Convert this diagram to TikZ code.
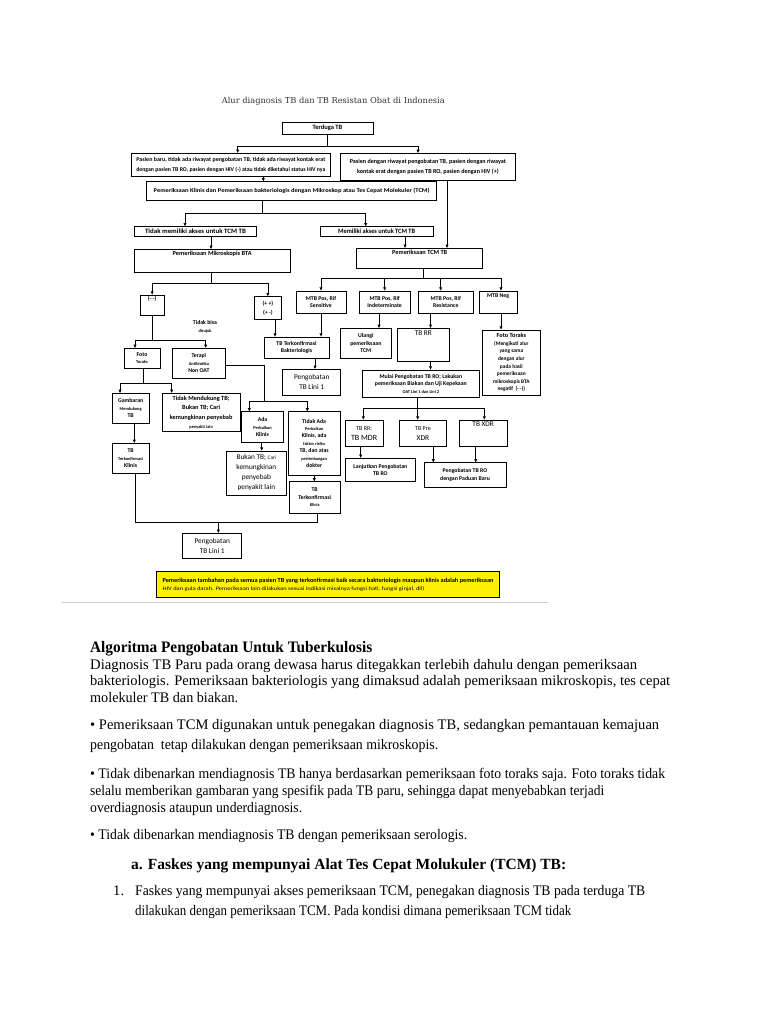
\documentclass[tikz,border=0pt]{standalone}
\usepackage{fontspec}
\usepackage{graphicx}
\setmainfont{Liberation Serif}
\newfontfamily\carl{Carlito}
\newfontfamily\djs{DejaVu Serif}
\usetikzlibrary{arrows.meta}
\newcommand\dg{\carl\bfseries\fontsize{5.8}{7.4}\selectfont}
\newcommand\dgw{\carl\bfseries\fontsize{5.8}{9.5}\selectfont}
\newcommand\dgs{\fontsize{4.4}{7}\selectfont}
\newcommand\dgl{\carl\fontsize{7.3}{10}\selectfont}
\newcommand\dgm{\carl\bfseries\fontsize{6.3}{9.3}\selectfont}
\newcommand\bodyf{\fontsize{14.6}{17}\selectfont}
\newsavebox\fitbx
\newlength\fitlen
\newcommand\fitw[2]{\sbox\fitbx{#2}\setlength\fitlen{\wd\fitbx}\pgfmathsetmacro\fitr{#1/\fitlen}\scalebox{\fitr}[1]{\usebox\fitbx}}
\tikzset{
 box/.style={draw=black,line width=0.8pt,inner sep=0.5pt,align=center,font=\dg},
 ln/.style={line width=0.7pt},
 arr/.style={ln,-{Triangle[length=3.2pt,width=2.8pt]}},
 body/.style={anchor=base west,inner sep=0pt,font=\bodyf},
 toplbl/.style={font=\dg,anchor=north,inner sep=1.5pt,align=center},
}
\newcommand\Bx[6][]{\node[box,minimum width={(#5-#3)*1pt},minimum height={(#6-#4)*1pt},#1] (#2) at ({(#3+#5)/2},{(#4+#6)/2})}
\begin{document}
\begin{tikzpicture}[x=1pt,y=-1pt]
\fill[white] (0,0) rectangle (768,1024);
\useasboundingbox (0,0) rectangle (768,1024);
% title
\node[font=\djs\fontsize{8.2}{10}\selectfont,text=black!80] (title) at (333.3,101) {\fitw{223}{Alur diagnosis TB dan TB Resistan Obat di Indonesia}};
% boxes
\Bx[font=\carl\bfseries\fontsize{6.5}{8}\selectfont]{terduga}{282}{122}{373}{134}{Terduga TB};
\Bx[font=\dgw]{baru}{131.7}{153.3}{330}{176.7}{\fitw{189}{Pasien baru, tidak ada riwayat pengobatan TB, tidak ada riwayat kontak erat}\\\fitw{189}{dengan pasien TB RO, pasien dengan HIV (-) atau tidak diketahui status HIV nya}};
\Bx[font=\carl\bfseries\fontsize{6.1}{10}\selectfont]{lama}{340.7}{153.3}{515}{180}{Pasien dengan riwayat pengobatan TB, pasien dengan riwayat\\kontak erat dengan pasien TB RO, pasien dengan HIV (+)};
\Bx{klinis}{146.7}{181.7}{436.7}{200}{\fitw{276}{Pemeriksaan Klinis dan Pemeriksaan bakteriologis dengan Mikroskop atau Tes Cepat Molekuler (TCM)}};
\Bx[font=\carl\bfseries\fontsize{6.6}{8}\selectfont]{tidakakses}{134.3}{226.7}{256.7}{236}{\fitw{101}{Tidak memiliki akses untuk TCM TB}};
\Bx[font=\carl\bfseries\fontsize{6.6}{8}\selectfont]{akses}{320}{226.7}{433.3}{236.7}{\fitw{77}{Memiliki akses untuk TCM TB}};
\Bx[label={[toplbl,font=\carl\bfseries\fontsize{6.3}{8}\selectfont]north:\fitw{79}{Pemeriksaan Mikroskopis BTA}}]{mikro}{134.3}{249.3}{290}{272.7}{};
\Bx[label={[toplbl,font=\carl\bfseries\fontsize{6.3}{8}\selectfont]north:\fitw{55}{Pemeriksaan TCM TB}}]{tcm}{356.7}{248.3}{482.7}{268.3}{};
\Bx{minmin}{140}{295}{164.3}{315}{(- -)\\[6pt]};
\Bx{plus}{254}{296.7}{281.7}{319.3}{(+ +)\\[1.5pt](+ -)};
\Bx{sens}{296}{291}{346}{313}{MTB Pos, Rif\\Sensitive};
\Bx{indet}{359.3}{291}{410}{313}{MTB Pos, Rif\\Indeterminate};
\Bx{resist}{418.3}{291}{473.3}{313}{MTB Pos, Rif\\Resistance};
\Bx[label={[toplbl,yshift=-1.5pt]north:MTB Neg}]{neg}{479}{291}{517.3}{313}{};
\node[font=\dg,align=center] (dirujuk) at (205,327) {Tidak bisa\\{\dgs dirujuk}};
\Bx{foto}{124}{348.3}{160}{368.3}{Foto\\{\dgs Toraks}};
\Bx{terapi}{172.7}{348.3}{225}{378.3}{Terapi\\{\dgs Antibiotika}\\Non OAT};
\Bx{tbbakt}{264}{337}{329}{358.3}{TB Terkonfirmasi\\Bakteriologis};
\Bx[font=\dgl]{lini1a}{282.7}{369.3}{340.7}{395}{Pengobatan\\TB Lini 1};
\Bx{ulangi}{340}{328.3}{391.7}{358.3}{Ulangi\\pemeriksaan\\TCM};
\Bx[label={[toplbl,font=\dgl,yshift=-1pt]north:TB RR}]{tbrr}{397.3}{328.3}{449.3}{361.7}{};
\Bx[font=\carl\bfseries\fontsize{5.4}{7.6}\selectfont]{fotoneg}{482.7}{330}{540}{395}{{\fontsize{6.2}{8}\selectfont Foto Toraks}\\(Mengikuti alur\\yang sama\\dengan alur\\pada hasil\\pemeriksaan\\mikroskopis BTA\\negatif\ \ (- -))};
\Bx{mulai}{362.7}{370}{479}{397.5}{Mulai Pengobatan TB RO; Lakukan\\pemeriksaan Biakan dan Uji Kepekaan\\{\dgs OAT Lini 1 dan Lini 2}};
\Bx{gambaran}{112.3}{393.3}{149}{423.3}{Gambaran\\{\dgs Mendukung}\\TB};
\Bx[font=\dgm]{tidakmend}{162.3}{393.3}{240}{431.7}{Tidak Mendukung TB;\\Bukan TB; Cari\\kemungkinan penyebab\\{\dgs penyakit lain}};
\Bx{ada}{241.7}{411.7}{283.3}{442.7}{Ada\\{\dgs Perbaikan}\\Klinis};
\Bx{tidakada}{288.3}{411.7}{340}{475}{Tidak Ada\\{\dgs Perbaikan}\\Klinis, ada\\{\dgs faktor risiko}\\TB, dan atas\\{\dgs pertimbangan}\\dokter};
\Bx[font=\dgl]{bukan}{226.7}{451}{286}{495}{Bukan TB; {\fontsize{5.3}{9}\selectfont Cari}\\kemungkinan\\penyebab\\penyakit lain};
\Bx{klinis1}{112.3}{443.3}{149}{473.3}{TB\\{\dgs Terkonfirmasi}\\Klinis};
\Bx{klinis2}{289.3}{481.7}{340}{513.3}{TB\\Terkonfirmasi\\{\dgs Klinis}};
\Bx[font=\carl\fontsize{8}{10}\selectfont]{mdr}{345}{420}{383.3}{446.7}{{\fontsize{6}{8}\selectfont TB RR;}\\TB MDR};
\Bx[font=\carl\fontsize{7.5}{10}\selectfont]{prexdr}{399.3}{420}{446.7}{446.7}{{\fontsize{6}{8}\selectfont TB Pre}\\XDR};
\Bx[label={[toplbl,font=\dgl,yshift=-1pt]north:TB XDR}]{xdr}{459}{420}{507.3}{446}{};
\Bx{lanjut}{345}{458.3}{415.7}{481.7}{Lanjutkan Pengobatan\\TB RO};
\Bx{paduan}{424}{462.7}{506}{487.3}{Pengobatan TB RO\\dengan Paduan Baru};
\Bx[font=\dgl]{lini1b}{182.7}{533.3}{241.7}{558.3}{Pengobatan\\TB Lini 1};
\Bx[fill=yellow,align=left,font=\carl\fontsize{5.3}{8.5}\selectfont]{note}{156.7}{571.7}{499.3}{597.7}{\fitw{331}{\bfseries\fontsize{6.2}{8}\selectfont Pemeriksaan tambahan pada semua pasien TB yang terkonfirmasi baik secara bakteriologis maupun klinis adalah pemeriksaan}\\\fitw{262}{HIV dan gula darah. Pemeriksaan lain dilakukan sesuai indikasi misalnya fungsi hati, fungsi ginjal, dll)}};
% separator
\draw[black!20,line width=0.8pt] (62,602) coordinate (s1) -- (548,602) coordinate (s2);
% connectors
\coordinate (h1) at (0,146.7); \coordinate (c1a) at (237.7,0); \coordinate (c1b) at (418,0);
\draw[ln] (terduga.south) -- (terduga.south |- h1);
\draw[arr] (terduga.south |- h1) -| (baru.north -| c1a);
\draw[arr] (terduga.south |- h1) -| (lama.north -| c1b);
\coordinate (c2) at (263.3,0);
\draw[arr] (baru.south -| c2) -- (klinis.north -| c2);
\coordinate (c3) at (447,0);
\draw[arr] (lama.south -| c3) -- (tcm.north -| c3);
\coordinate (c4) at (262.3,0); \coordinate (h4) at (0,213.3); \coordinate (c4a) at (185,0); \coordinate (c4b) at (365.7,0);
\draw[ln] (klinis.south -| c4) -- (c4 |- h4);
\draw[arr] (c4 |- h4) -| (tidakakses.north -| c4a);
\draw[arr] (c4 |- h4) -| (akses.north -| c4b);
\coordinate (c5) at (211,0);
\draw[arr] (tidakakses.south -| c5) -- (mikro.north -| c5);
\coordinate (c6) at (405,0);
\draw[arr] (akses.south -| c6) -- (tcm.north -| c6);
\coordinate (h7) at (0,283.3);
\draw[ln] (mikro.south -| c5) -- (c5 |- h7);
\draw[arr] (c5 |- h7) -| (minmin.north);
\draw[arr] (c5 |- h7) -| (plus.north);
\coordinate (c8) at (423.3,0); \coordinate (h8) at (0,278.3); \coordinate (c8r) at (440.7,0); \coordinate (c8n) at (501,0);
\draw[ln] (tcm.south -| c8) -- (c8 |- h8);
\draw[arr] (c8 |- h8) -| (sens.north);
\draw[arr] (c8 |- h8) -| (indet.north);
\draw[arr] (c8 |- h8) -| (resist.north -| c8r);
\draw[arr] (c8 |- h8) -| (neg.north -| c8n);
\coordinate (h9) at (0,340); \coordinate (c9a) at (135,0); \coordinate (c9b) at (205.7,0);
\draw[ln] (minmin.south) -- (minmin.south |- h9);
\draw[arr] (minmin.south |- h9) -| (foto.north -| c9a);
\draw[arr] (minmin.south |- h9) -| (terapi.north -| c9b);
\coordinate (c10) at (275,0);
\draw[arr] (plus.south -| c10) -- (tbbakt.north -| c10);
\draw[arr] (sens.south) -- (sens.south |- tbbakt.north);
\coordinate (c12) at (315,0);
\draw[arr] (tbbakt.south -| c12) -- (lini1a.north -| c12);
\coordinate (c13) at (379,0);
\draw[arr] (indet.south -| c13) -- (ulangi.north -| c13);
\coordinate (c14) at (430.5,0);
\draw[arr] (resist.south -| c14) -- (tbrr.north -| c14);
\draw[arr] (tbrr.south -| c14) -- (mulai.north -| c14);
\draw[arr] (neg.south -| c8n) -- (fotoneg.north -| c8n);
\coordinate (h17) at (0,383.3); \coordinate (c17) at (143.3,0); \coordinate (c17a) at (120,0); \coordinate (c17b) at (171.7,0);
\draw[ln] (foto.south -| c17) -- (c17 |- h17);
\draw[arr] (c17 |- h17) -| (gambaran.north -| c17a);
\draw[arr] (c17 |- h17) -| (tidakmend.north -| c17b);
\coordinate (h18) at (0,365); \coordinate (c18) at (264.3,0); \coordinate (h18b) at (0,401.7); \coordinate (c18a) at (249.3,0); \coordinate (c18b) at (307.3,0);
\draw[ln] (terapi.east |- h18) -| (c18 |- h18b);
\draw[arr] (c18 |- h18b) -| (ada.north -| c18a);
\draw[arr] (c18 |- h18b) -| (tidakada.north -| c18b);
\coordinate (c19) at (134.3,0);
\draw[arr] (gambaran.south -| c19) -- (klinis1.north -| c19);
\coordinate (c20) at (261.7,0);
\draw[arr] (ada.south -| c20) -- (bukan.north -| c20);
\coordinate (c21) at (314.3,0);
\draw[arr] (tidakada.south -| c21) -- (klinis2.north -| c21);
\coordinate (h22) at (0,522.7); \coordinate (c22a) at (135,0); \coordinate (c22b) at (317.7,0); \coordinate (c22) at (218.3,0);
\draw[ln] (klinis1.south -| c22a) |- (c22b |- h22) -- (klinis2.south -| c22b);
\draw[arr] (c22 |- h22) -- (lini1b.north -| c22);
\coordinate (h23) at (0,408.3); \coordinate (c23) at (417.7,0); \coordinate (c23a) at (363.3,0); \coordinate (c23b) at (484.3,0);
\draw[ln] (mulai.south -| c23) -- (c23 |- h23);
\draw[arr] (c23 |- h23) -| (mdr.north -| c23a);
\draw[arr] (c23 |- h23) -- (prexdr.north -| c23);
\draw[arr] (c23 |- h23) -| (xdr.north -| c23b);
\coordinate (c24) at (360.7,0);
\draw[arr] (mdr.south -| c24) -- (lanjut.north -| c24);
\coordinate (c25a) at (433.3,0); \coordinate (c25b) at (475.7,0);
\draw[arr] (prexdr.south -| c25a) -- (paduan.north -| c25a);
\draw[arr] (xdr.south -| c25b) -- (paduan.north -| c25b);
% body text
\node[body,font=\fontsize{16}{18}\selectfont\bfseries] (p1) at (90,652) {\fitw{282}{Algoritma Pengobatan Untuk Tuberkulosis}};
\node[body] (p2) at (90,669) {\fitw{547}{Diagnosis TB Paru pada orang dewasa harus ditegakkan terlebih dahulu dengan pemeriksaan}};
\node[body] (p3) at (90,685) {\fitw{580}{bakteriologis. Pemeriksaan bakteriologis yang dimaksud adalah pemeriksaan mikroskopis, tes cepat}};
\node[body] (p4) at (90,702) {\fitw{148}{molekuler TB dan biakan.}};
\node[body] (p5) at (90,729) {\fitw{569}{• Pemeriksaan TCM digunakan untuk penegakan diagnosis TB, sedangkan pemantauan kemajuan}};
\node[body] (p6) at (90,749) {\fitw{348}{pengobatan\ \ tetap dilakukan dengan pemeriksaan mikroskopis.}};
\node[body] (p7) at (90,778) {\fitw{575}{• Tidak dibenarkan mendiagnosis TB hanya berdasarkan pemeriksaan foto toraks saja. Foto toraks tidak}};
\node[body] (p8) at (90,795) {\fitw{514}{selalu memberikan gambaran yang spesifik pada TB paru, sehingga dapat menyebabkan terjadi}};
\node[body] (p9) at (90,812) {\fitw{212}{overdiagnosis ataupun underdiagnosis.}};
\node[body] (p10) at (90,839) {\fitw{377}{• Tidak dibenarkan mendiagnosis TB dengan pemeriksaan serologis.}};
\node[body,font=\fontsize{15.5}{18}\selectfont\bfseries] (p11) at (131,869) {\fitw{435}{a. Faskes yang mempunyai Alat Tes Cepat Molukuler (TCM) TB:}};
\node[body] (p12) at (113,895) {1.};
\node[body] (p13) at (135,895) {\fitw{510}{Faskes yang mempunyai akses pemeriksaan TCM, penegakan diagnosis TB pada terduga TB}};
\node[body] (p14) at (135,915) {\fitw{436}{dilakukan dengan pemeriksaan TCM. Pada kondisi dimana pemeriksaan TCM tidak}};
\end{tikzpicture}
\end{document}
